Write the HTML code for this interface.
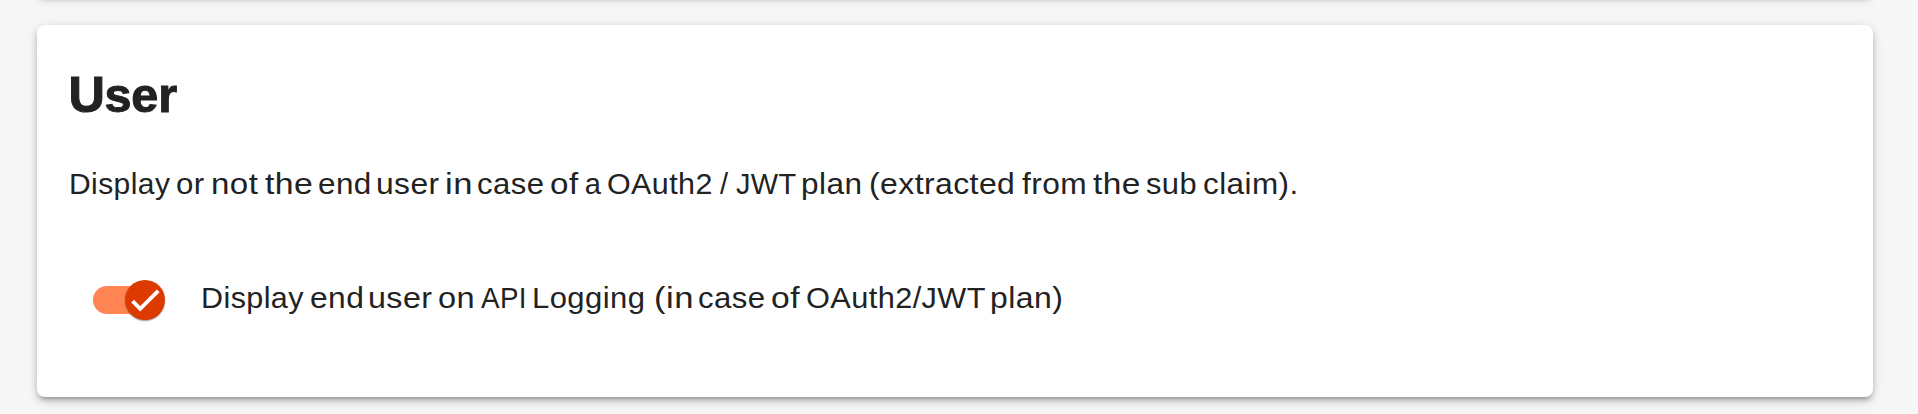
<!DOCTYPE html>
<html><head><meta charset="utf-8">
<style>
html,body{margin:0;padding:0;}
body{width:1918px;height:414px;overflow:hidden;background:#f7f7f7;position:relative;font-family:"Liberation Sans",sans-serif;color:#222;}
.card{position:absolute;background:#fff;border-radius:8px;
 box-shadow:0 6px 2px -4px rgba(0,0,0,.12),0 4px 4px 0 rgba(0,0,0,.13),0 2px 10px 0 rgba(0,0,0,.12),0 3px 24px 0 rgba(0,0,0,.05),0 6px 10px 0 rgba(0,0,0,.05);}
#prev{left:37px;top:-105px;width:1836px;height:100px;}
#cur{left:37px;top:25px;width:1836px;height:372px;}
.h{position:absolute;left:68.5px;top:64.5px;font-size:48.5px;letter-spacing:0px;-webkit-text-stroke:1px #222;font-weight:bold;line-height:60px;white-space:nowrap;}
.w{position:absolute;font-size:29px;line-height:36px;white-space:nowrap;transform-origin:0 0;}
.d{top:166px;}
.l{top:280px;}
.track{position:absolute;left:93px;top:286px;width:68px;height:28px;border-radius:14px;background:#ff8353;}
.thumb{position:absolute;left:125px;top:280px;width:40px;height:40px;border-radius:50%;background:#dd3a00;
 box-shadow:0 2px 1px -1px rgba(0,0,0,.2),0 1px 1px 0 rgba(0,0,0,.14),0 1px 3px 0 rgba(0,0,0,.12);}
.thumb svg{position:absolute;left:0;top:0;}
</style></head>
<body>
<div class="card" id="prev"></div>
<div class="card" id="cur"></div>
<div class="h"><span style="font-size:50.5px;letter-spacing:-0.6px">U</span>ser</div>
<span class="w d" style="left:68.70px;letter-spacing:0.400px;transform:scaleX(1.0351)">Display</span>
<span class="w d" style="left:175.70px;letter-spacing:0.400px;transform:scaleX(1.0750)">or</span>
<span class="w d" style="left:211.00px;letter-spacing:0.400px;transform:scaleX(1.1395)">not</span>
<span class="w d" style="left:265.00px;letter-spacing:0.400px;transform:scaleX(1.1641)">the</span>
<span class="w d" style="left:318.20px;letter-spacing:0.400px;transform:scaleX(1.0844)">end</span>
<span class="w d" style="left:376.30px;letter-spacing:0.400px;transform:scaleX(1.0963)">user</span>
<span class="w d" style="left:445.30px;letter-spacing:0.400px;transform:scaleX(1.1917)">in</span>
<span class="w d" style="left:477.30px;letter-spacing:0.400px;transform:scaleX(1.0712)">case</span>
<span class="w d" style="left:549.80px;letter-spacing:0.400px;transform:scaleX(1.1435)">of</span>
<span class="w d" style="left:584.70px;letter-spacing:0.400px;transform:scaleX(1.0000)">a</span>
<span class="w d" style="left:607.20px;letter-spacing:0.400px;transform:scaleX(1.0495)">OAuth2</span>
<span class="w d" style="left:720.00px;letter-spacing:0.400px;transform:scaleX(1.0000)">/</span>
<span class="w d" style="left:736.10px;letter-spacing:0.400px;transform:scaleX(0.9983)">JWT</span>
<span class="w d" style="left:801.30px;letter-spacing:0.400px;transform:scaleX(1.0873)">plan</span>
<span class="w d" style="left:869.25px;letter-spacing:0.400px;transform:scaleX(1.1004)">(extracted</span>
<span class="w d" style="left:1022.10px;letter-spacing:0.400px;transform:scaleX(1.0929)">from</span>
<span class="w d" style="left:1092.50px;letter-spacing:0.400px;transform:scaleX(1.1538)">the</span>
<span class="w d" style="left:1146.10px;letter-spacing:0.400px;transform:scaleX(1.0644)">sub</span>
<span class="w d" style="left:1203.20px;letter-spacing:0.400px;transform:scaleX(1.0843)">claim).</span>
<div class="track"></div>
<div class="thumb"><svg width="40" height="40" viewBox="0 0 40 40"><path d="M7.6 21.2 L15.2 28.8 L33.2 10.8" fill="none" stroke="#fff" stroke-width="3.9"/></svg></div>
<span class="w l" style="left:200.90px;letter-spacing:0.400px;transform:scaleX(1.0511)">Display</span>
<span class="w l" style="left:309.80px;letter-spacing:0.400px;transform:scaleX(1.0933)">end</span>
<span class="w l" style="left:368.00px;letter-spacing:0.400px;transform:scaleX(1.1111)">user</span>
<span class="w l" style="left:438.20px;letter-spacing:0.400px;transform:scaleX(1.1207)">on</span>
<span class="w l" style="left:480.80px;letter-spacing:0.400px;transform:scaleX(0.9568)">API</span>
<span class="w l" style="left:532.00px;letter-spacing:0.400px;transform:scaleX(1.0693)">Logging</span>
<span class="w l" style="left:653.80px;letter-spacing:0.400px;transform:scaleX(1.1929)">(in</span>
<span class="w l" style="left:698.20px;letter-spacing:0.400px;transform:scaleX(1.0729)">case</span>
<span class="w l" style="left:771.10px;letter-spacing:0.400px;transform:scaleX(1.1587)">of</span>
<span class="w l" style="left:806.00px;letter-spacing:0.400px;transform:scaleX(1.0584)">OAuth2/JWT</span>
<span class="w l" style="left:990.00px;letter-spacing:0.400px;transform:scaleX(1.1016)">plan)</span>
</body></html>
